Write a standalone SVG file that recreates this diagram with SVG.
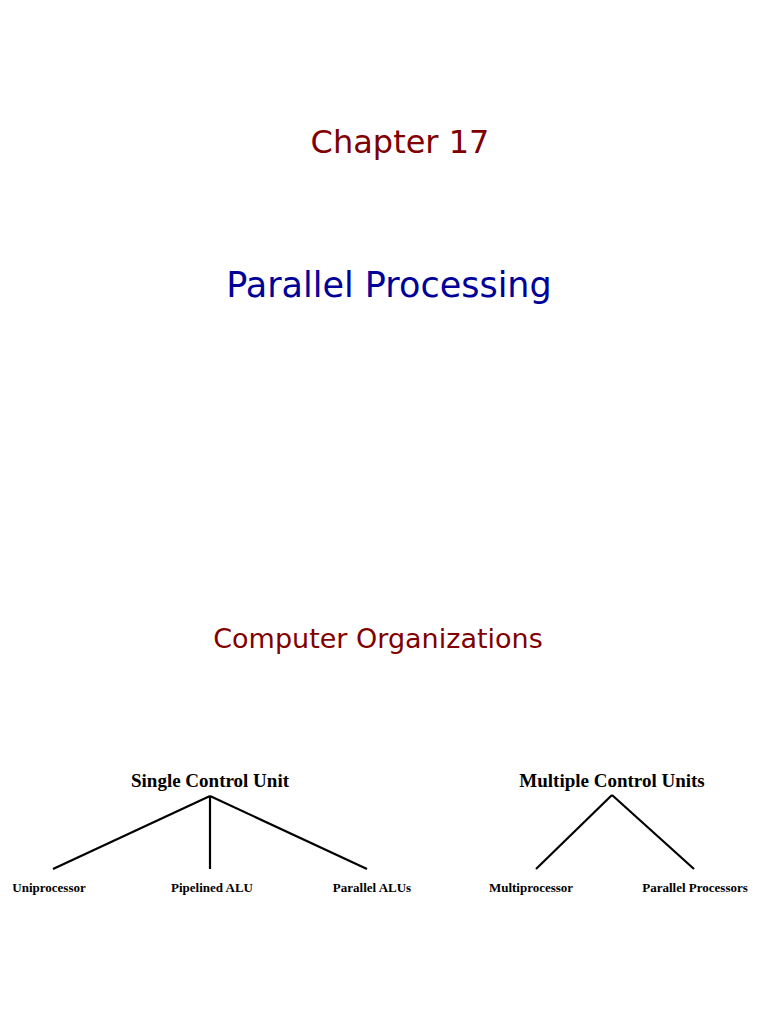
<svg xmlns="http://www.w3.org/2000/svg" width="768" height="1024" viewBox="0 0 768 1024">
<style>
.t{font-family:"DejaVu Sans",sans-serif;text-anchor:middle}
.h{font-family:"Liberation Serif",serif;font-weight:bold;font-size:19px;text-anchor:middle}
.l{font-family:"Liberation Serif",serif;font-weight:bold;font-size:13px;text-anchor:middle}
.c line{stroke:#000;stroke-width:2.2}
</style>
<rect width="768" height="1024" fill="#fff"/>
<text class="t" x="400" y="153" font-size="32" fill="#800000">Chapter 17</text>
<text class="t" x="389" y="297" font-size="35" fill="#000099">Parallel Processing</text>
<text class="t" x="378" y="648" font-size="27" fill="#800000">Computer Organizations</text>
<g id="single"><text class="h" x="210" y="787">Single Control Unit</text></g>
<g id="multiple"><text class="h" x="612" y="787">Multiple Control Units</text></g>
<g id="uni"><text class="l" x="49" y="892">Uniprocessor</text></g>
<g id="pipe"><text class="l" x="212" y="892">Pipelined ALU</text></g>
<g id="palu"><text class="l" x="372" y="892">Parallel ALUs</text></g>
<g id="multi"><text class="l" x="531" y="892">Multiprocessor</text></g>
<g id="ppro"><text class="l" x="695" y="892">Parallel Processors</text></g>
<g class="c" id="connectors">
<line x1="210" y1="796" x2="53" y2="869"/>
<line x1="210" y1="796" x2="210" y2="869"/>
<line x1="210" y1="796" x2="367" y2="869"/>
<line x1="612" y1="795" x2="536" y2="869"/>
<line x1="612" y1="795" x2="694" y2="869"/>
</g>
</svg>
